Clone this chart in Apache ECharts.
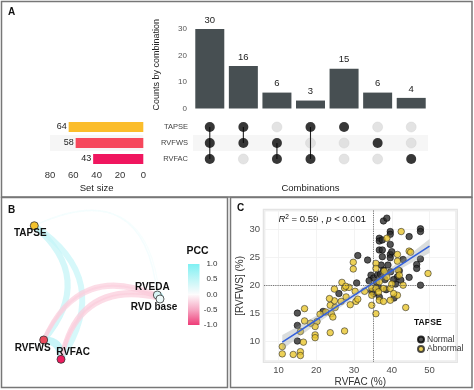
<!DOCTYPE html>
<html><head><meta charset="utf-8">
<script src="https://cdn.jsdelivr.net/npm/echarts@6/dist/echarts.min.js"></script>
<style>html,body{margin:0;padding:0;background:#fff}#c{width:474px;height:390px}</style>
</head><body><div id="c"></div>
<script>
// ---------- Panel A : UpSet ----------
const combos = ['c1','c2','c3','c4','c5','c6','c7'];
const comboCounts = [30,16,6,3,15,6,4];
const sets = ['RVFAC','RVFWS','TAPSE'];           // bottom -> top
const setSizes = [43,58,64];
const setColors = ['#f0165f','#f6485c','#fbbd2b'];
const comboMembers = [
  ['TAPSE','RVFWS','RVFAC'],
  ['TAPSE','RVFWS'],
  ['RVFWS','RVFAC'],
  ['TAPSE','RVFAC'],
  ['TAPSE'],
  ['RVFWS'],
  ['RVFAC']
];

// ---------- Panel B : correlation network ----------
const nodeNames  = ['TAPSE','RVEDA','RVD base','RVFWS','RVFAC'];
const nodeX      = [0.1215,0.7365,0.75,0.1685,0.255];
const nodeY      = [0.933,0.50,0.475,0.219,0.098];
const nodeColors = ['#f3c22c','#d8f4f4','#eef9f9','#ea4a5c','#ee1c5f'];
const linkSource = ['TAPSE','TAPSE','RVFWS','TAPSE','TAPSE','RVFWS','RVFWS','RVFAC','RVFAC','RVEDA'];
const linkTarget = ['RVFWS','RVFAC','RVFAC','RVEDA','RVD base','RVEDA','RVD base','RVEDA','RVD base','RVD base'];
const linkPCC    = [0.60,0.58,0.77,0.15,0.12,-0.42,-0.40,-0.45,-0.42,0.85];
const linkCurve  = [0.5,0.5,0.5,0.7,0.7,0.5,0.5,0.5,0.5,0.3];
const pccMin = -1, pccMax = 1;

// ---------- Panel C : scatter ----------
const normalRVFAC = [15,15,15,21.8,26,31,30.7,33.6,34.5,34.7,35.2,36.2,36.7,36.7,36.7,37.5,36.7,37.5,37.5,37.8,38.7,39.6,39.6,39.6,39.6,39.6,37.8,39.7,41.5,42.4,44.6,44.6,46.6,46.6,47.6,47.6,47.6,47.6,40.6,35.2,37.2,38.2,40.5,36,38.5,41,43,39,37,40,42,36.5,34];
const normalRVFWS = [15.0,12.8,10.0,15.3,18.5,25.3,20.4,24.5,21.8,18.9,21.3,21.8,17.9,28.4,27.9,28.1,26.3,26.3,25.1,31.5,32.0,29.6,29.1,27.3,25.5,24.9,22.7,22.4,21.5,20.9,28.7,21.4,23.7,23.0,30.1,29.6,24.7,20.0,17.7,18.5,23.6,21.0,21.0,20.5,19.2,20.2,24.6,23.6,22.0,26.0,22.6,19.5,20.8];
const abnormalRVFAC = [24.8,27.5,28.7,24.8,26.6,27.9,30.5,30.3,16.9,23.7,16.9,20.2,24.0,24.4,19.7,15.8,16.6,19.7,19.7,23.7,27.5,11.0,11.0,13.9,15.8,15.8,29.8,29.8,26.8,27.8,22.5,25,29,31,32.8,34.7,34.7,35.8,37.8,36.7,34.7,35.8,39.6,37.8,39.6,41.5,43.7,38.7,42.5,44.6,41.5,41.5,49.6,35.8,35.8,38.7,41.7,36.7,40,42,43,38,40.5,36.5,45,21,18.5,23.5];
const abnormalRVFWS = [19.3,19.5,19.6,17.2,17.1,17.9,17.1,18.9,15.8,16.4,13.6,13.5,14.9,14.3,12.6,11.7,9.8,11.1,10.6,11.5,11.8,9.0,7.7,7.6,8.1,7.4,24.1,22.9,20.5,19.8,15.2,16.0,16.5,17.5,18.9,19.5,18.2,19.4,19.4,17.3,16.4,14.9,19.4,17.1,17.3,18.2,16.0,28.4,29.6,26.1,25.5,24.3,22.1,23.9,23.0,21.4,22.7,20.6,20.2,21.8,20.0,22.5,18.5,18.8,25.9,14.8,13.2,17.6];
const fitX     = [11,15,20,25,30,35,40,45,50];
const fitY     = [9.80,11.56,13.77,15.97,18.18,20.38,22.59,24.79,27.00];
const fitLower = [8.50,10.56,13.02,15.42,17.73,19.93,21.99,23.94,25.75];
const fitUpper = [11.10,12.56,14.52,16.52,18.63,20.83,23.19,25.64,28.25];
const cutRVFAC = 35, cutRVFWS = 20;

const FONT = '"Liberation Sans", Arial, Helvetica, sans-serif';

// derived mark lists
const activeDots = [], inactiveDots = [], connectors = [];
comboMembers.forEach((m, i) => {
  const rows = [];
  sets.forEach((s, j) => {
    if (m.includes(s)) { activeDots.push([i, j]); rows.push(j); }
    else inactiveDots.push([i, j]);
  });
  if (rows.length > 1) connectors.push([i, Math.min(...rows), Math.max(...rows)]);
});

function mixWhite(hex, t) {
  const c = [1,3,5].map(k => parseInt(hex.slice(k, k+2), 16));
  return 'rgb(' + c.map(v => Math.round(255 - t * (255 - v))).join(',') + ')';
}
const posCol = '#7fe9ef', negCol = '#ef3a75';
const links = linkSource.map((s, i) => {
  const r = linkPCC[i];
  return {
    source: s, target: linkTarget[i],
    lineStyle: {
      color: r >= 0 ? mixWhite(posCol, Math.abs(r) * 0.8) : mixWhite(negCol, Math.abs(r) * 0.6),
      width: Math.abs(r) * 10,
      opacity: 0.7,
      curveness: linkCurve[i]
    }
  };
});
const nodes = nodeNames.map((n, i) => ({
  name: n, value: [nodeX[i], nodeY[i]],
  itemStyle: { color: nodeColors[i] }
}));
const labelOffsets = {'TAPSE':[-4,8],'RVEDA':[-5,-8],'RVD base':[-6,8],'RVFWS':[-11,8],'RVFAC':[12,-7]};
nodes.forEach(n => { n.label = { offset: labelOffsets[n.name] }; });

const chart = echarts.init(document.getElementById('c'));
const txt = (x, y, t, o) => Object.assign({type:'text', x, y, style:Object.assign({text:t, font:'bold 10px '+FONT, fill:'#111', textVerticalAlign:'middle'}, o||{})});

chart.setOption({
  animation: false,
  textStyle: { fontFamily: FONT },
  grid: [
    { left: 193, right: 46, top: 21, height: 87.5 },
    { left: 193, right: 46, top: 119, height: 48 },
    { left: 50, right: 330.7, top: 119, height: 48 },
    { left: 10, top: 215, width: 200, height: 160 },
    { left: 188, top: 264, width: 11.5, height: 61 },
    { left: 264, right: 17.3, top: 210, bottom: 28.3, show: true, borderColor: '#e4e4e4', borderWidth: 2.5, backgroundColor: '#fff' }
  ],
  xAxis: [
    { gridIndex: 0, type: 'category', data: combos, axisLine:{show:false}, axisTick:{show:false}, axisLabel:{show:false} },
    { gridIndex: 1, type: 'category', data: combos, axisLine:{show:false}, axisTick:{show:false}, axisLabel:{show:false},
      name: 'Combinations', nameLocation: 'middle', nameGap: 16, nameTextStyle:{fontSize:9.5, color:'#222'} },
    { gridIndex: 2, type: 'value', inverse: true, min: 0, max: 80, interval: 20, axisLine:{show:false}, axisTick:{show:false}, splitLine:{show:false},
      axisLabel:{fontSize:9.5, color:'#333', margin:3}, name: 'Set size', nameLocation:'middle', nameGap: 16, nameTextStyle:{fontSize:9.5, color:'#222'} },
    { gridIndex: 3, type: 'value', min: 0, max: 1, show: false },
    { gridIndex: 4, type: 'category', data: ['PCC'], show: false },
    { gridIndex: 5, type: 'value', min: 6.16, max: 57.2, splitNumber: 5,
      axisLine:{show:false}, axisTick:{show:false},
      axisLabel:{fontSize:9.5, color:'#4d4d4d', margin:4, showMinLabel:false, showMaxLabel:false},
      splitLine:{lineStyle:{color:'#f0f0f0', width:0.8}},
      name:'RVFAC (%)', nameLocation:'middle', nameGap:16, nameTextStyle:{fontSize:10, color:'#333'} }
  ],
  yAxis: [
    { gridIndex: 0, type: 'value', min: 0, max: 33, interval: 10, axisLine:{show:false}, axisTick:{show:false}, splitLine:{show:false},
      axisLabel:{fontSize:8, color:'#555', margin:6, showMaxLabel:false},
      name: 'Counts by combination', nameLocation:'middle', nameGap: 32, nameTextStyle:{fontSize:9, color:'#222'} },
    { gridIndex: 1, type: 'category', data: sets, axisLine:{show:false}, axisTick:{show:false},
      axisLabel:{fontSize:7.5, color:'#444', margin:5},
      splitArea:{show:true, areaStyle:{color:['rgba(0,0,0,0)','#f6f6f6','rgba(0,0,0,0)']}} },
    { gridIndex: 2, type: 'category', data: sets, show: true, axisLine:{show:false}, axisTick:{show:false}, axisLabel:{show:false},
      splitArea:{show:true, areaStyle:{color:['rgba(0,0,0,0)','#f6f6f6','rgba(0,0,0,0)']}} },
    { gridIndex: 3, type: 'value', min: 0, max: 1, show: false },
    { gridIndex: 4, type: 'value', min: pccMin, max: pccMax, interval: 0.5, position: 'right',
      axisLine:{show:false}, axisTick:{show:false}, splitLine:{show:false},
      axisLabel:{fontSize:8, color:'#333', align:'right', margin:18, formatter: v => v.toFixed(1)} },
    { gridIndex: 5, type: 'value', min: 6.3, max: 33.46, splitNumber: 5,
      axisLine:{show:false}, axisTick:{show:false},
      axisLabel:{fontSize:9.5, color:'#4d4d4d', margin:4, showMinLabel:false, showMaxLabel:false},
      splitLine:{lineStyle:{color:'#f0f0f0', width:0.8}},
      name:'[RVFWS] (%)', nameLocation:'middle', nameGap:15, nameTextStyle:{fontSize:10, color:'#333'} }
  ],
  legend: {
    data: ['Normal','Abnormal'], orient: 'vertical', left: 412, top: 330,
    itemWidth: 6, itemHeight: 6, itemGap: 0.5, icon: 'circle',
    textStyle: { fontSize: 8.5, color: '#333', lineHeight: 7, padding:[0,0,0,-2] }
  },
  series: [
    { type: 'bar', xAxisIndex: 0, yAxisIndex: 0, data: comboCounts, barWidth: 29,
      itemStyle: { color: '#474f52' },
      label: { show: true, position: 'top', distance: 4, fontSize: 9.5, color: '#222' } },
    { type: 'scatter', xAxisIndex: 1, yAxisIndex: 1, data: inactiveDots, symbolSize: 10,
      itemStyle: { color: '#dcdcdc', borderColor:'#d0d0d0', borderWidth:0.5 }, z: 2 },
    { type: 'custom', xAxisIndex: 1, yAxisIndex: 1, data: connectors, encode:{x:0, y:[1,2]}, z: 3,
      renderItem: (p, api) => {
        const a = api.coord([api.value(0), api.value(1)]);
        const b = api.coord([api.value(0), api.value(2)]);
        return { type:'line', shape:{x1:a[0], y1:a[1], x2:b[0], y2:b[1]}, style:{stroke:'#222', lineWidth:1.1} };
      } },
    { type: 'scatter', xAxisIndex: 1, yAxisIndex: 1, data: activeDots, symbolSize: 10,
      itemStyle: { color: '#050505' }, z: 4 },
    { type: 'bar', xAxisIndex: 2, yAxisIndex: 2, barWidth: 10,
      data: setSizes.map((v, i) => ({ value: v, itemStyle: { color: setColors[i] } })),
      label: { show: true, position: 'left', distance: 2, fontSize: 9, color: '#222' } },
    { type: 'graph', coordinateSystem: 'cartesian2d', xAxisIndex: 3, yAxisIndex: 3,
      data: nodes, links: links, symbolSize: 8,
      itemStyle: { borderColor: '#333', borderWidth: 0.8 },
      label: { show: true, position: 'inside', fontSize: 10, fontWeight: 'bold', color: '#111' },
      lineStyle: { curveness: 0.5 }, emphasis: { disabled: true } },
    { type: 'bar', xAxisIndex: 4, yAxisIndex: 4, data: [pccMax], barWidth: '100%',
      itemStyle: { color: new echarts.graphic.LinearGradient(0,0,0,1,[{offset:0,color:'#7ff0f3'},{offset:0.5,color:'#c0f6f7'},{offset:1,color:'#fdfbfc'}]) } },
    { type: 'bar', xAxisIndex: 4, yAxisIndex: 4, data: [pccMin], barWidth: '100%', barGap: '-100%',
      itemStyle: { color: new echarts.graphic.LinearGradient(0,0,0,1,[{offset:0,color:'#fdfbfc'},{offset:0.5,color:'#f6a8c3'},{offset:1,color:'#ee3c78'}]) } },
    { name: 'Normal', type: 'scatter', xAxisIndex: 5, yAxisIndex: 5, symbolSize: 6.5, z: 2,
      data: normalRVFAC.map((x, i) => [x, normalRVFWS[i]]),
      itemStyle: { color: '#2b2b2b', borderColor: '#000', borderWidth: 0.7 },
      markLine: { silent: true, symbol: 'none', label:{show:false},
        lineStyle: { type: 'dotted', color: '#555', width: 0.9 },
        data: [{ xAxis: cutRVFAC }, { yAxis: cutRVFWS }] } },
    { name: 'Abnormal', type: 'scatter', xAxisIndex: 5, yAxisIndex: 5, symbolSize: 6.5, z: 2,
      data: abnormalRVFAC.map((x, i) => [x, abnormalRVFWS[i]]),
      itemStyle: { color: '#e9c52e', borderColor: '#222', borderWidth: 0.7 } },
    { type: 'custom', xAxisIndex: 5, yAxisIndex: 5, z: 3,
      data: fitX.map((x, i) => [x, fitLower[i], fitUpper[i]]), encode: { x: 0, y: [1, 2] },
      renderItem: (p, api) => {
        if (p.dataIndex !== 0) return null;
        const up = fitX.map((x, i) => api.coord([x, fitUpper[i]]));
        const lo = fitX.map((x, i) => api.coord([x, fitLower[i]])).reverse();
        return { type: 'polygon', shape: { points: up.concat(lo) }, style: { fill: 'rgba(150,158,158,0.35)' } };
      } },
    { type: 'line', xAxisIndex: 5, yAxisIndex: 5, z: 4, symbol: 'none',
      data: fitX.map((x, i) => [x, fitY[i]]), lineStyle: { color: '#3461db', width: 1.6 } }
  ],
  graphic: [
    { type:'rect', shape:{x:1.5, y:1.5, width:470.5, height:195.5}, style:{fill:'none', stroke:'#777', lineWidth:1.5} },
    { type:'rect', shape:{x:1.5, y:197.5, width:226, height:190}, style:{fill:'none', stroke:'#777', lineWidth:1.5} },
    { type:'rect', shape:{x:230.5, y:197.5, width:241.5, height:190}, style:{fill:'none', stroke:'#777', lineWidth:1.5} },
    txt(8, 12, 'A'),
    txt(8, 210, 'B'),
    txt(237, 208, 'C'),
    txt(197.5, 251, 'PCC', {font:'bold 10.5px '+FONT, textAlign:'center'}),
    txt(414, 323, 'TAPSE', {font:'bold 8.5px '+FONT}),
    { type:'text', x: 278.5, y: 219.5, style: {
      text: '{i|R}{s|2} = 0.59 , {i|p} < 0.001',
      textVerticalAlign: 'middle', font: '9.5px '+FONT, fill:'#111',
      rich: { i: { fontStyle:'italic', fontSize: 9.5, fontFamily: FONT }, s: { fontSize: 6.5, verticalAlign:'top', padding:[0,0,5,0], fontFamily: FONT } } } }
  ]
});
</script></body></html>
